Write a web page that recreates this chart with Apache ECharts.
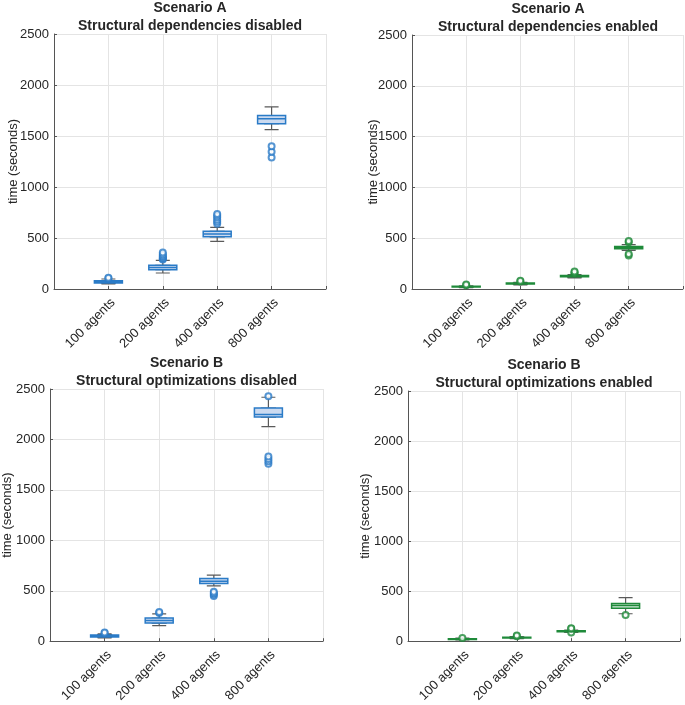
<!DOCTYPE html>
<html>
<head>
<meta charset="utf-8">
<script src="https://cdn.jsdelivr.net/npm/echarts@6/dist/echarts.min.js"></script>
<style>
html,body{margin:0;padding:0;background:#fff;}
#c{width:685px;height:705px;}
</style>
</head>
<body>
<div id="c"></div>
<script>
// Categories (padded with empty ends so ticks sit at positions 1..4 of 0..5)
const categories = ['', '100 agents', '200 agents', '400 agents', '800 agents', ''];
const yTicks = [0, 500, 1000, 1500, 2000, 2500];

// Panel titles
const titleTL = 'Scenario A\nStructural dependencies disabled';
const titleTR = 'Scenario A\nStructural dependencies enabled';
const titleBL = 'Scenario B\nStructural optimizations disabled';
const titleBR = 'Scenario B\nStructural optimizations enabled';

// Box stats per category: [min, Q1, median, Q3, max]
const statsTL = [[49, 60, 72, 82, 98], [157, 189, 212, 232, 281], [467, 512, 539, 565, 604], [1563, 1620, 1668, 1700, 1786]];
const outTL = [[104, 110], [288, 296, 305, 315, 325, 340, 358], [640, 660, 680, 700, 718, 735], [1290, 1345, 1400]];

const statsTR = [[14, 19, 23, 27, 32], [40, 48, 53, 58, 66], [110, 120, 126, 132, 142], [380, 397, 408, 418, 437]];
const outTR = [[38, 44], [75, 82], [152, 162, 172], [330, 345, 460, 472]];

const statsBL = [[33, 42, 52, 62, 72], [154, 180, 205, 229, 271], [549, 572, 595, 621, 654], [2127, 2222, 2248, 2311, 2418]];
const outBL = [[78, 86], [280, 290], [448, 462, 476, 490], [1760, 1785, 1805, 1830, 2428]];

const statsBR = [[12, 17, 21, 25, 30], [26, 32, 36, 40, 46], [88, 95, 100, 104, 112], [274, 330, 357, 376, 436]];
const outBR = [[33], [50, 56], [86, 124, 130], [262]];

const BLUE = '#2a7bc7', BLUE_FILL = '#cbdaf0';
const GREEN = '#1f8a3a', GREEN_FILL = '#d5eadb';
const WHISKER = '#5a5a5a';
const TXT = '#262626';
const FONT = 'Liberation Sans, Arial, Helvetica, sans-serif';

const panels = [
  {title: titleTL, stats: statsTL, out: outTL, color: BLUE, fill: BLUE_FILL, left: 54, top: 34, width: 272, height: 255, titleTop: -1, nameGap: 34},
  {title: titleTR, stats: statsTR, out: outTR, color: GREEN, fill: GREEN_FILL, left: 412, top: 35, width: 272, height: 254, titleTop: 0, nameGap: 32},
  {title: titleBL, stats: statsBL, out: outBL, color: BLUE, fill: BLUE_FILL, left: 50, top: 389, width: 273, height: 255, titleTop: 354, nameGap: 36},
  {title: titleBR, stats: statsBR, out: outBR, color: GREEN, fill: GREEN_FILL, left: 408, top: 391, width: 272, height: 252, titleTop: 356, nameGap: 36}
];

const option = {
  animation: false,
  backgroundColor: '#fff',
  textStyle: {fontFamily: FONT},
  title: [], grid: [], xAxis: [], yAxis: [], series: []
};

panels.forEach((p, i) => {
  option.title.push({
    text: p.title,
    left: p.left + p.width / 2,
    top: p.titleTop,
    textAlign: 'center',
    padding: 0,
    textStyle: {fontFamily: FONT, fontSize: 14, fontWeight: 'bold', color: TXT, lineHeight: 18}
  });
  option.grid.push({left: p.left, top: p.top, width: p.width, height: p.height, containLabel: false});
  const xa = option.xAxis.length;
  option.xAxis.push({
    type: 'category', gridIndex: i, data: categories, boundaryGap: false,
    axisLine: {lineStyle: {color: '#555', width: 1}},
    axisTick: {show: true, inside: true, length: 3, interval: 0, lineStyle: {color: '#555'}},
    axisLabel: {interval: 0, rotate: 45, fontSize: 13, color: TXT, fontFamily: FONT, margin: 7, verticalAlign: 'top'},
    splitLine: {show: true, interval: 0, lineStyle: {color: '#e4e4e4', width: 1}}
  });
  option.xAxis.push({
    type: 'category', gridIndex: i, data: categories, boundaryGap: false, show: false
  });
  option.yAxis.push({
    type: 'value', gridIndex: i, min: yTicks[0], max: yTicks[yTicks.length - 1], interval: 500,
    name: 'time (seconds)', nameLocation: 'middle', nameGap: p.nameGap, nameMoveOverlap: false,
    nameTextStyle: {fontSize: 13, color: TXT, fontFamily: FONT},
    axisLine: {show: true, lineStyle: {color: '#555', width: 1}},
    axisTick: {show: true, inside: true, length: 3, lineStyle: {color: '#555'}},
    axisLabel: {fontSize: 13, color: TXT, fontFamily: FONT, margin: 5, formatter: v => String(v)},
    splitLine: {show: true, lineStyle: {color: '#e4e4e4', width: 1}}
  });
  // whiskers (gray) with narrow caps
  option.series.push({
    type: 'boxplot', xAxisIndex: xa, yAxisIndex: i,
    boxWidth: [14, 14],
    encode: {x: 0, y: [1, 2, 3, 4, 5]},
    itemStyle: {color: 'transparent', borderColor: WHISKER, borderWidth: 1.2},
    data: p.stats.map((s, k) => [k + 1].concat(s))
  });
  // colored box overlay
  option.series.push({
    type: 'boxplot', xAxisIndex: xa + 1, yAxisIndex: i,
    boxWidth: [28, 28],
    encode: {x: 0, y: [1, 2, 3, 4, 5]},
    itemStyle: {color: p.fill, borderColor: p.color, borderWidth: 1.5},
    data: p.stats.map((s, k) => [k + 1, s[1], s[1], s[2], s[3], s[3]])
  });
  // outliers
  const pts = [];
  p.out.forEach((arr, k) => arr.forEach(v => pts.push([k + 1, v])));
  option.series.push({
    type: 'scatter', xAxisIndex: xa, yAxisIndex: i,
    symbol: 'emptyCircle', symbolSize: 6,
    itemStyle: {color: p.color, borderColor: p.color, borderWidth: 1.5},
    data: pts, z: 5
  });
});

const chart = echarts.init(document.getElementById('c'), null, {renderer: 'canvas'});
chart.setOption(option);
</script>
</body>
</html>
